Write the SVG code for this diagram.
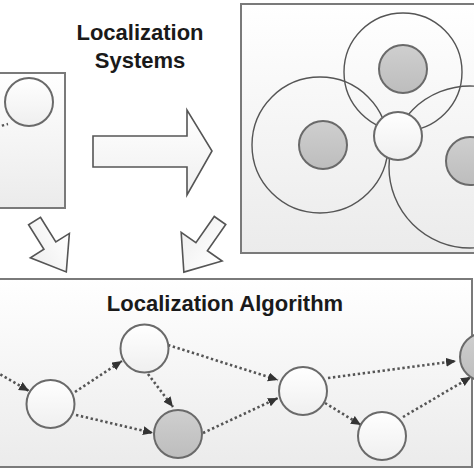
<svg xmlns="http://www.w3.org/2000/svg" width="474" height="474" viewBox="0 0 474 474">
<defs>
<linearGradient id="boxg" x1="0" y1="0" x2="0" y2="1">
<stop offset="0" stop-color="#ffffff"/>
<stop offset="1" stop-color="#ebebeb"/>
</linearGradient>
<linearGradient id="whiteg" x1="0" y1="0" x2="0" y2="1">
<stop offset="0" stop-color="#ffffff"/>
<stop offset="1" stop-color="#efefef"/>
</linearGradient>
<linearGradient id="grayg" x1="0" y1="0" x2="0" y2="1">
<stop offset="0" stop-color="#cfcfcf"/>
<stop offset="1" stop-color="#bdbdbd"/>
</linearGradient>
<marker id="ah" markerUnits="userSpaceOnUse" markerWidth="12" markerHeight="10" refX="10" refY="4.5" orient="auto">
<path d="M0,0 L10,4.5 L0,9 Z" fill="#333"/>
</marker>
<style>
.box{fill:url(#boxg);stroke:#7a7a7a;stroke-width:2}
.title{font-family:"Liberation Sans",Arial,sans-serif;font-weight:bold;font-size:22px;fill:#1a1a1a;text-anchor:middle}
.node{fill:url(#whiteg);stroke:#6a6a6a;stroke-width:2}
.gnode{fill:url(#grayg);stroke:#6a6a6a;stroke-width:2}
.range{fill:none;stroke:#555;stroke-width:1.4}
.hollow{fill:url(#whiteg);stroke:#555;stroke-width:1.6;stroke-linejoin:miter}
.edge{fill:none;stroke:#555;stroke-width:2.6;stroke-dasharray:2.4 2.6;marker-end:url(#ah)}
</style>
</defs>
<rect width="474" height="474" fill="#ffffff"/>

<g id="title-systems">
<text class="title" x="140" y="40">Localization</text>
<text class="title" x="140" y="68">Systems</text>
</g>

<g id="left-panel">
<rect class="box" x="-10" y="73" width="75" height="135"/>
<circle class="node" cx="29" cy="102" r="24"/>
<line x1="-3" y1="127" x2="8" y2="124" stroke="#555" stroke-width="2.4" stroke-dasharray="2.4 2.6"/>
</g>

<g id="arrow-right">
<polygon class="hollow" points="93,136 187,136 187,110 212,151 187,195 187,167 93,167"/>
</g>

<g id="arrow-down-right">
<path class="hollow" transform="translate(34.5,221) rotate(58)" d="M0,-7 L29,-7 L29,-23 L60,0 L29,23 L29,7 L0,7 Z"/>
</g>
<g id="arrow-down-left">
<path class="hollow" transform="translate(220,220.5) rotate(125)" d="M0,-7 L32,-7 L32,-25 L63,0 L32,25 L32,7 L0,7 Z"/>
</g>

<g id="systems-panel">
<rect class="box" x="241" y="4" width="245" height="249"/>
<circle class="range" cx="403" cy="72" r="59"/>
<circle class="range" cx="320" cy="145" r="68"/>
<circle class="range" cx="470" cy="167" r="81"/>
<circle class="gnode" cx="403" cy="69" r="24"/>
<circle class="gnode" cx="323" cy="145" r="24"/>
<circle class="gnode" cx="470" cy="161" r="24"/>
<circle class="node" cx="398" cy="136" r="24"/>
</g>

<g id="algorithm-panel">
<rect class="box" x="-10" y="279" width="482" height="188"/>
<text class="title" x="225" y="311">Localization Algorithm</text>
</g>

<g id="connectors">
<line class="edge" x1="-4" y1="372" x2="29" y2="391"/>
<line class="edge" x1="75" y1="392" x2="122" y2="361"/>
<line class="edge" x1="76" y1="415" x2="153" y2="433"/>
<line class="edge" x1="148" y1="374" x2="173" y2="407"/>
<line class="edge" x1="168" y1="345" x2="278" y2="380"/>
<line class="edge" x1="203" y1="433" x2="278" y2="398"/>
<line class="edge" x1="325" y1="403" x2="361" y2="425"/>
<line class="edge" x1="328" y1="378" x2="456" y2="361"/>
<line class="edge" x1="403" y1="417" x2="471" y2="377"/>
</g>

<g id="n1"><circle class="node" cx="50.5" cy="404" r="24"/></g>
<g id="n2"><circle class="node" cx="144.5" cy="348.5" r="24"/></g>
<g id="n3"><circle class="gnode" cx="178" cy="434" r="24"/></g>
<g id="n4"><circle class="node" cx="303" cy="391" r="24"/></g>
<g id="n5"><circle class="node" cx="382" cy="436" r="24"/></g>
<g id="n6"><circle class="gnode" cx="484" cy="357" r="24"/></g>
</svg>
